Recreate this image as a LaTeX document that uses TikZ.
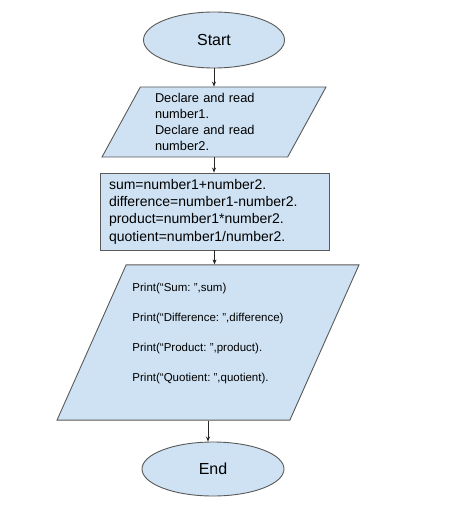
\documentclass[tikz,border=0pt]{standalone}
\usepackage{fontspec}
\setmainfont{Liberation Sans}
\usepackage{tikz}
\usetikzlibrary{shapes.geometric,arrows.meta,positioning}
\definecolor{boxfill}{HTML}{CFE2F3}
\definecolor{boxline}{HTML}{595959}
\frenchspacing

\begin{document}
\begin{tikzpicture}[x=1pt,y=-1pt,>={Stealth[length=5pt,width=4pt]},
  term/.style={ellipse,draw=boxline,fill=boxfill,line width=0.9pt,minimum width=141pt,minimum height=56pt,font=\fontsize{16}{19}\selectfont},
  io/.style={trapezium,trapezium stretches body,draw=boxline,fill=boxfill,line width=0.9pt,align=left},
  proc/.style={rectangle,draw=boxline,fill=boxfill,line width=0.9pt,align=left},
  flow/.style={->,draw=black!85,line width=0.7pt}]
\useasboundingbox (0,0) rectangle (474,505);

%Start
\node[term] (start) at (214,40) {Start};

%Input
\node[io,trapezium left angle=60,trapezium right angle=120,minimum width=224pt,minimum height=70pt,
  inner ysep=4.5pt,text width=118pt,font=\fontsize{12.8}{16}\selectfont] (decl) at (214,122)
  {Declare and read\\number1.\\Declare and read\\number2.};

%Calculation
\node[proc,minimum width=229pt,minimum height=77pt,text width=211pt,
  font=\fontsize{14}{17.3}\selectfont] (calc) at (214.5,211.5)
  {sum=number1+number2.\\difference=number1-number2.\\product=number1*number2.\\quotient=number1/number2.};

%Output
\node[io,trapezium left angle=66,trapezium right angle=114,minimum width=302pt,minimum height=155pt,
  inner ysep=18.5pt,font=\fontsize{11.5}{30}\selectfont] (out) at (208,342.5)
  {Print(“Sum: ”,sum)\\Print(“Difference: ”,difference)\\Print(“Product: ”,product).\\
   Print(“Quotient: ”,quotient).\rule[-20pt]{0pt}{0pt}};

%End
\node[term,minimum width=142pt,minimum height=54pt] (fin) at (213,469) {End};

%flow lines
\draw[flow] (start) -- (decl);
\draw[flow] (decl.south) -- (decl.south |- calc.north);
\draw[flow] (calc.south) -- (calc.south |- out.north);
\draw[flow] (out.south) -- (out.south |- fin.north);

\end{tikzpicture}
\end{document}
